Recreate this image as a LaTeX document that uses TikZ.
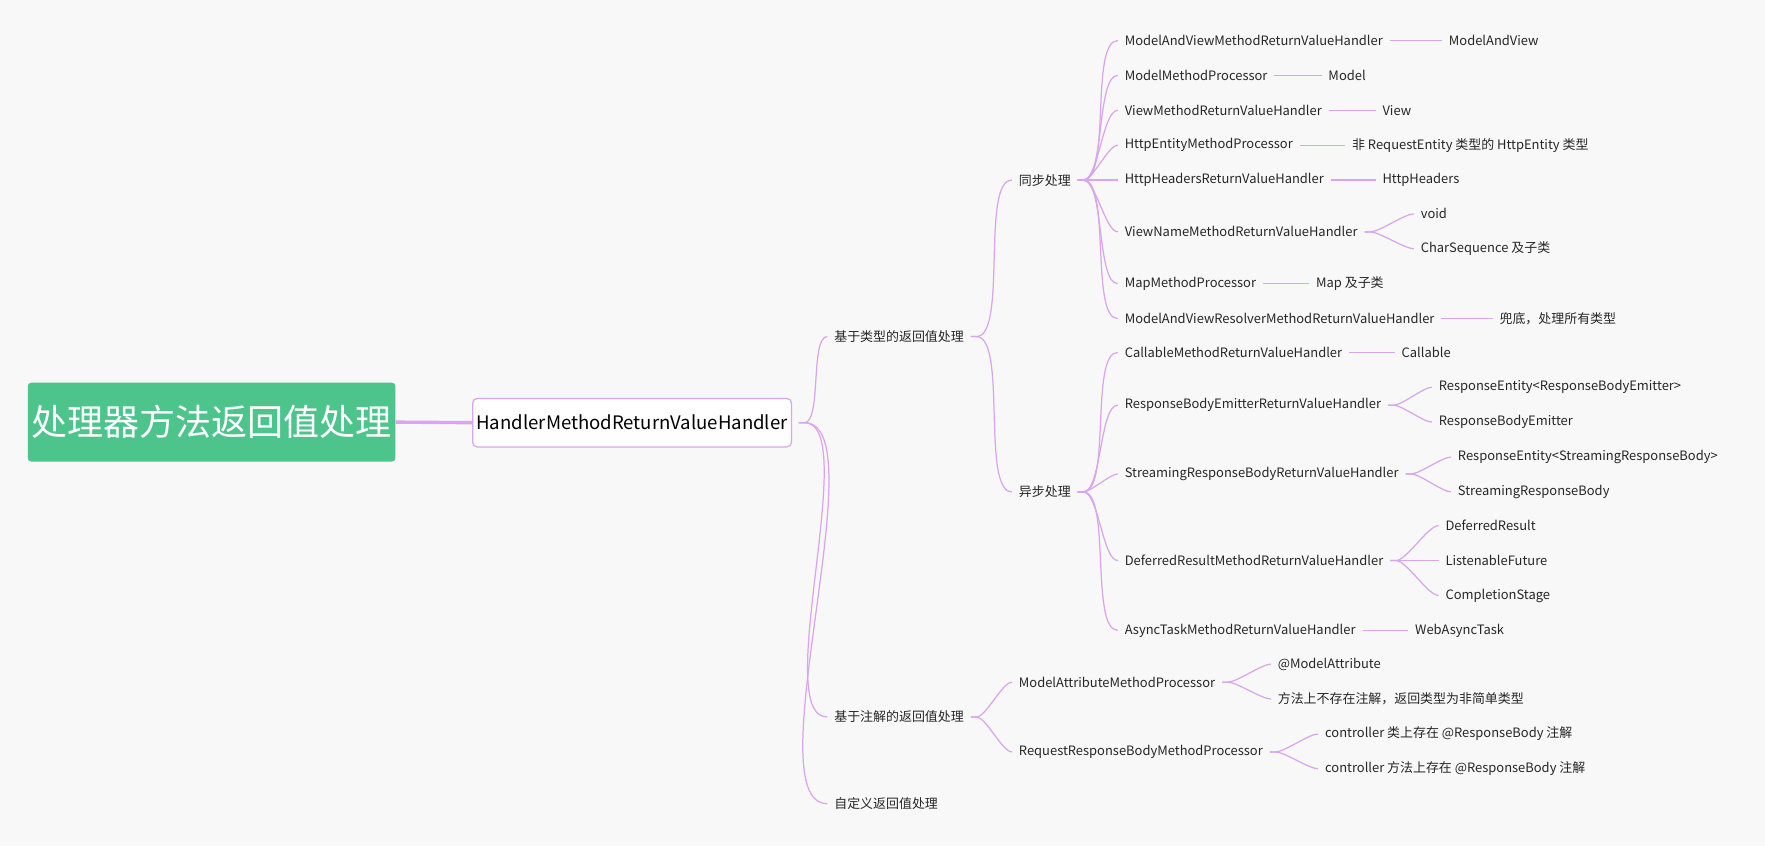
\documentclass[tikz,border=0pt]{standalone}
\usepackage{fontspec}
\setmainfont{Noto Sans CJK SC}
\definecolor{bg}{HTML}{F8F8F8}
\definecolor{ln}{HTML}{D9A6EE}
\definecolor{rootg}{HTML}{4DC48C}
\begin{document}
\begin{tikzpicture}[x=1pt,y=-1pt,
  t/.style={anchor=west,inner sep=0pt,font=\fontsize{11.5}{13}\selectfont,text=black!85},
  br/.style={draw=ln,line width=1.1pt}]
\fill[bg] (0,0) rectangle (1568,752);
\useasboundingbox (0,0) rectangle (1568,752);
\node[fill=rootg,rounded corners=3pt,minimum width=322pt,minimum height=70pt,text=white,font=\fontsize{32}{36}\selectfont] (root) at (188,375) {处理器方法返回值处理};
\node[draw=ln,line width=1.1pt,fill=white,rounded corners=4pt,minimum width=281pt,minimum height=43pt,font=\fontsize{16.5}{19}\selectfont] (H) at (561.5,375.5) {HandlerMethodReturnValueHandler};
\draw[ln,line width=3pt] (root.east) -- (H.west);
\node[t] (a) at (741,299) {基于类型的返回值处理};
\node[t] (b) at (741,637) {基于注解的返回值处理};
\node[t] (c) at (741,714) {自定义返回值处理};
\node[t] (s) at (905,160) {同步处理};
\node[t] (y) at (905,437) {异步处理};
\node[t] (s1) at (999,36) {ModelAndViewMethodReturnValueHandler};
\node[t] (s2) at (999,67) {ModelMethodProcessor};
\node[t] (s3) at (999,98) {ViewMethodReturnValueHandler};
\node[t] (s4) at (999,129) {HttpEntityMethodProcessor};
\node[t] (s5) at (999,160) {HttpHeadersReturnValueHandler};
\node[t] (s6) at (999,206) {ViewNameMethodReturnValueHandler};
\node[t] (s7) at (999,252) {MapMethodProcessor};
\node[t] (s8) at (999,283) {ModelAndViewResolverMethodReturnValueHandler};
\node[t] (l1) at (1287,36) {ModelAndView};
\node[t] (l2) at (1180,67) {Model};
\node[t] (l3) at (1228,98) {View};
\node[t] (l4) at (1201,129) {非 RequestEntity 类型的 HttpEntity 类型};
\node[t] (l5) at (1228,160) {HttpHeaders};
\node[t] (l6a) at (1262,190) {void};
\node[t] (l6b) at (1262,221) {CharSequence 及子类};
\node[t] (l7) at (1169,252) {Map 及子类};
\node[t] (l8) at (1332,283) {兜底，处理所有类型};
\node[t] (y1) at (999,313) {CallableMethodReturnValueHandler};
\node[t] (y2) at (999,360) {ResponseBodyEmitterReturnValueHandler};
\node[t] (y3) at (999,421) {StreamingResponseBodyReturnValueHandler};
\node[t] (y4) at (999,498) {DeferredResultMethodReturnValueHandler};
\node[t] (y5) at (999,560) {AsyncTaskMethodReturnValueHandler};
\node[t] (m1) at (1245,313) {Callable};
\node[t] (m2a) at (1278,344) {ResponseEntity<ResponseBodyEmitter>};
\node[t] (m2b) at (1278,375) {ResponseBodyEmitter};
\node[t] (m3a) at (1295,406) {ResponseEntity<StreamingResponseBody>};
\node[t] (m3b) at (1295,437) {StreamingResponseBody};
\node[t] (m4a) at (1284,467) {DeferredResult};
\node[t] (m4b) at (1284,498) {ListenableFuture};
\node[t] (m4c) at (1284,529) {CompletionStage};
\node[t] (m5) at (1257,560) {WebAsyncTask};
\node[t] (b1) at (905,606) {ModelAttributeMethodProcessor};
\node[t] (b2) at (905,668) {RequestResponseBodyMethodProcessor};
\node[t] (n1) at (1135,590) {@ModelAttribute};
\node[t] (n2) at (1135,621) {方法上不存在注解，返回类型为非简单类型};
\node[t] (n3) at (1177,652) {controller 类上存在 @ResponseBody 注解};
\node[t] (n4) at (1177,683) {controller 方法上存在 @ResponseBody 注解};
\foreach \p/\c in {H/a,H/b,H/c,a/s,a/y,s/s1,s/s2,s/s3,s/s4,s/s5,s/s6,s/s7,s/s8,
  s1/l1,s2/l2,s3/l3,s4/l4,s5/l5,s6/l6a,s6/l6b,s7/l7,s8/l8,
  y/y1,y/y2,y/y3,y/y4,y/y5,y1/m1,y2/m2a,y2/m2b,y3/m3a,y3/m3b,y4/m4a,y4/m4b,y4/m4c,y5/m5,
  b/b1,b/b2,b1/n1,b1/n2,b2/n3,b2/n4}
  \draw[br] ([xshift=6pt]\p.east) -- ++(5,0) to[out=0,in=180,looseness=0.5] ([xshift=-6pt]\c.west);
\end{tikzpicture}
\end{document}
